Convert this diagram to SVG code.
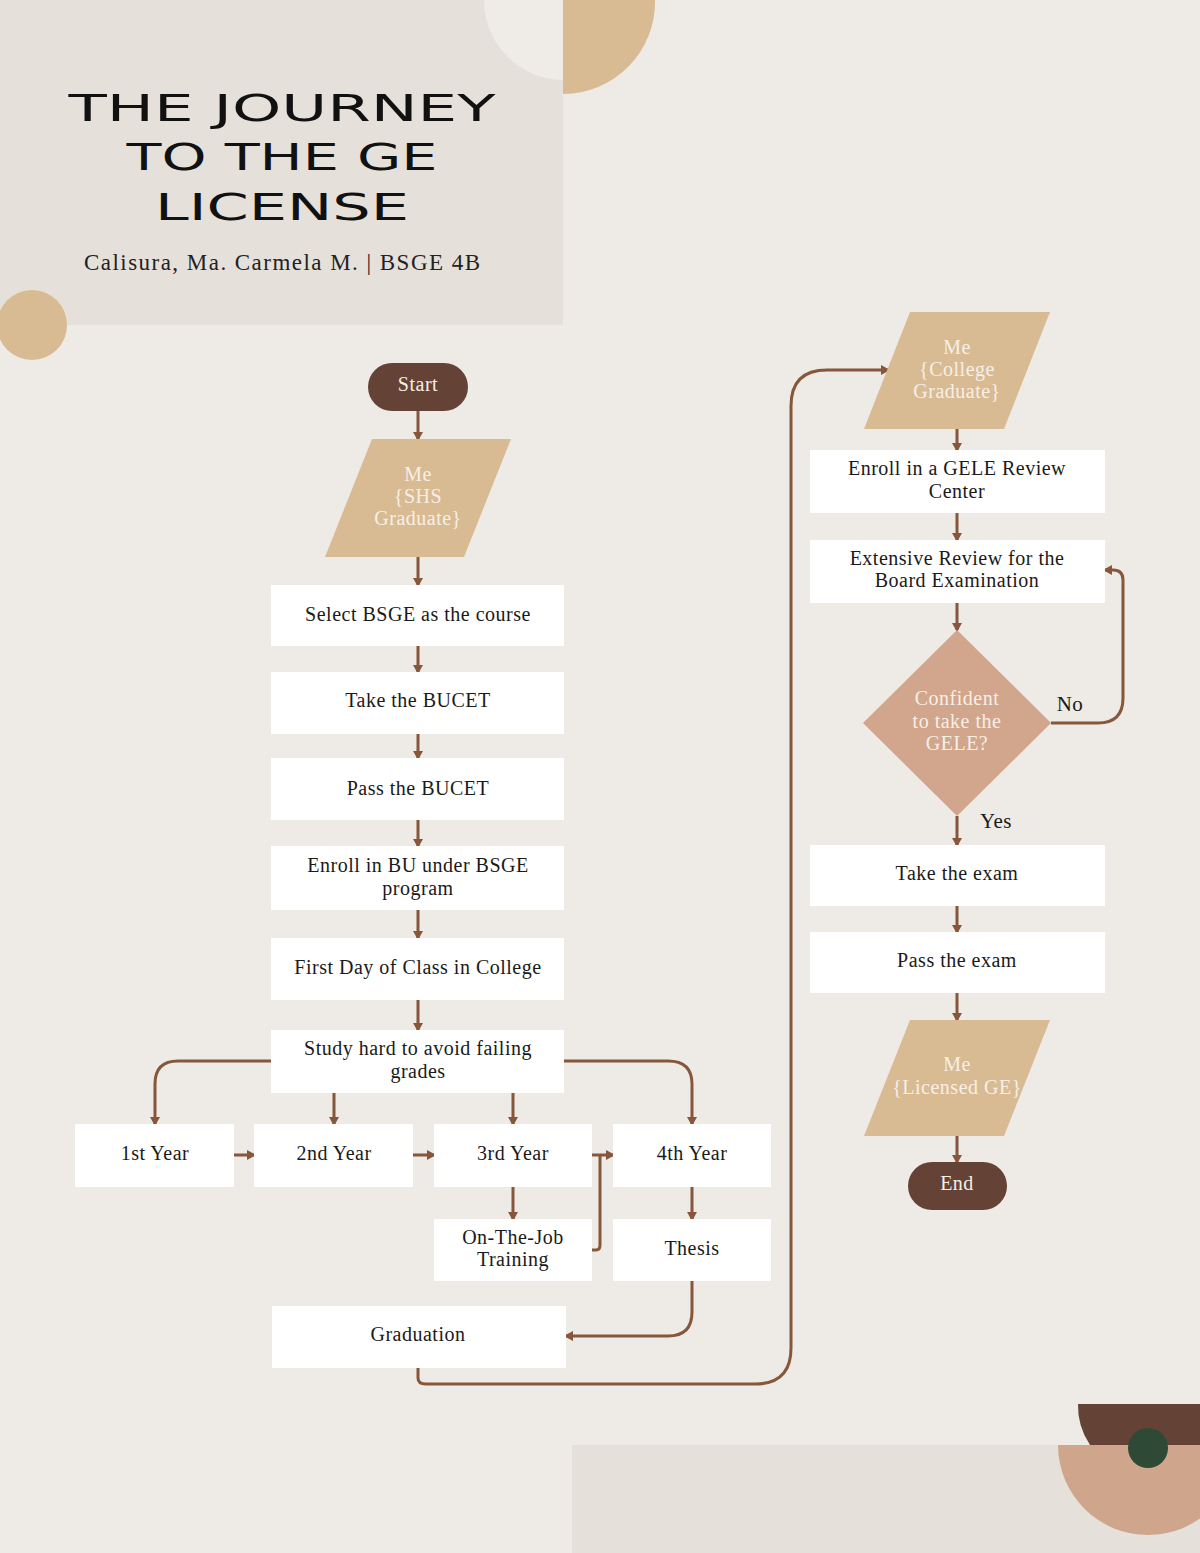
<svg xmlns="http://www.w3.org/2000/svg" width="1200" height="1553" viewBox="0 0 1200 1553">
<style>
.box{fill:#ffffff}
.t{font-family:"Liberation Serif","DejaVu Serif",serif;font-size:20px;fill:#1a1a1a;text-anchor:middle;letter-spacing:0.5px}
.w{font-family:"Liberation Serif","DejaVu Serif",serif;font-size:20px;fill:#f6efe6;text-anchor:middle;letter-spacing:0.5px}
.c{fill:none;stroke:#86573a;stroke-width:3}
.title{font-family:"DejaVu Sans",sans-serif;font-size:38px;fill:#111;text-anchor:middle}
</style>
<defs>
<marker id="ah" markerWidth="10" markerHeight="10" refX="7" refY="5" orient="auto" markerUnits="userSpaceOnUse"><path d="M0,0 L9,5 L0,10 z" fill="#86573a"/></marker>
</defs>
<rect width="1200" height="1553" fill="#eeeae6"/>
<rect x="0" y="0" width="563" height="325" fill="#e5e0da"/>
<path d="M563,0 L563,80 A80,80 0 0 1 484,0 z" fill="#efebe7"/>
<path d="M563,0 L655,0 A92,92 0 0 1 563,94 z" fill="#d9bb93"/>
<circle cx="32" cy="325" r="35" fill="#d9bb93"/>
<rect x="572" y="1445" width="628" height="108" fill="#e5e0da"/>
<path d="M1058,1445 A90,90 0 0 0 1238,1445 z" fill="#cfa68b"/>
<path d="M1078,1404 L1200,1404 L1200,1445 L1090,1445 A70,70 0 0 1 1078,1404 z" fill="#654236"/>
<circle cx="1148" cy="1448" r="20" fill="#2e4a36"/>
<g id="title">
<text class="title" x="282" y="121" textLength="427" lengthAdjust="spacingAndGlyphs">THE JOURNEY</text>
<text class="title" x="282" y="170" textLength="311" lengthAdjust="spacingAndGlyphs">TO THE GE</text>
<text class="title" x="282" y="220" textLength="254" lengthAdjust="spacingAndGlyphs">LICENSE</text>
<text x="282" y="270" textLength="396" style="font-family:'Liberation Serif',serif;font-size:23px;fill:#222;text-anchor:middle">Calisura, Ma. Carmela M. | BSGE 4B</text>
</g>
<g id="connectors">
<path class="c" marker-end="url(#ah)" d="M418,411 V439"/>
<path class="c" marker-end="url(#ah)" d="M418,557 V585"/>
<path class="c" marker-end="url(#ah)" d="M418,646 V672"/>
<path class="c" marker-end="url(#ah)" d="M418,734 V758"/>
<path class="c" marker-end="url(#ah)" d="M418,820 V846"/>
<path class="c" marker-end="url(#ah)" d="M418,910 V938"/>
<path class="c" marker-end="url(#ah)" d="M418,1000 V1030"/>
<path class="c" marker-end="url(#ah)" d="M271,1061 H178 Q155,1061 155,1084 V1124"/>
<path class="c" marker-end="url(#ah)" d="M564,1061 H668 Q692,1061 692,1084 V1124"/>
<path class="c" marker-end="url(#ah)" d="M334,1093 V1124"/>
<path class="c" marker-end="url(#ah)" d="M513,1093 V1124"/>
<path class="c" marker-end="url(#ah)" d="M234,1155 H254"/>
<path class="c" marker-end="url(#ah)" d="M413,1155 H434"/>
<path class="c" marker-end="url(#ah)" d="M592,1155 H613"/>
<path class="c" d="M592,1250 H596 Q600,1250 600,1245 V1155"/>
<path class="c" marker-end="url(#ah)" d="M513,1187 V1219"/>
<path class="c" marker-end="url(#ah)" d="M692,1187 V1219"/>
<path class="c" marker-end="url(#ah)" d="M692,1281 V1312 Q692,1336 668,1336 H566"/>
<path class="c" marker-end="url(#ah)" d="M418,1368 V1378 Q418,1384 426,1384 H755 Q791,1384 791,1348 V406 Q791,370 827,370 H888"/>
<path class="c" marker-end="url(#ah)" d="M957,429 V450"/>
<path class="c" marker-end="url(#ah)" d="M957,513 V540"/>
<path class="c" marker-end="url(#ah)" d="M957,603 V630"/>
<path class="c" marker-end="url(#ah)" d="M1051,723 H1098 Q1123,723 1123,698 V580 Q1123,570 1113,570 H1105"/>
<path class="c" marker-end="url(#ah)" d="M957,816 V845"/>
<path class="c" marker-end="url(#ah)" d="M957,906 V932"/>
<path class="c" marker-end="url(#ah)" d="M957,993 V1020"/>
<path class="c" marker-end="url(#ah)" d="M957,1136 V1162"/>
<text class="t" x="1070" y="711" style="font-size:21px">No</text>
<text class="t" x="996" y="828" style="font-size:21px">Yes</text>
</g>
<g id="start"><rect x="368" y="363" width="100" height="48" rx="24" fill="#654236"/><text class="w" x="418" y="391">Start</text></g>
<g id="me-shs"><polygon points="372,439 511,439 464,557 325,557" fill="#d9bb93"/><text class="w" x="418" y="481">Me</text><text class="w" x="418" y="503">{SHS</text><text class="w" x="418" y="525">Graduate}</text></g>
<g id="select"><rect class="box" x="271" y="585" width="293" height="61"/><text class="t" x="418" y="621">Select BSGE as the course</text></g>
<g id="take-bucet"><rect class="box" x="271" y="672" width="293" height="62"/><text class="t" x="418" y="707">Take the BUCET</text></g>
<g id="pass-bucet"><rect class="box" x="271" y="758" width="293" height="62"/><text class="t" x="418" y="795">Pass the BUCET</text></g>
<g id="enroll-bu"><rect class="box" x="271" y="846" width="293" height="64"/><text class="t" x="418" y="872">Enroll in BU under BSGE</text><text class="t" x="418" y="895">program</text></g>
<g id="first-day"><rect class="box" x="271" y="938" width="293" height="62"/><text class="t" x="418" y="974">First Day of Class in College</text></g>
<g id="study"><rect class="box" x="271" y="1030" width="293" height="63"/><text class="t" x="418" y="1055">Study hard to avoid failing</text><text class="t" x="418" y="1078">grades</text></g>
<g id="y1"><rect class="box" x="75" y="1124" width="159" height="63"/><text class="t" x="155" y="1160">1st Year</text></g>
<g id="y2"><rect class="box" x="254" y="1124" width="159" height="63"/><text class="t" x="334" y="1160">2nd Year</text></g>
<g id="y3"><rect class="box" x="434" y="1124" width="158" height="63"/><text class="t" x="513" y="1160">3rd Year</text></g>
<g id="y4"><rect class="box" x="613" y="1124" width="158" height="63"/><text class="t" x="692" y="1160">4th Year</text></g>
<g id="ojt"><rect class="box" x="434" y="1219" width="158" height="62"/><text class="t" x="513" y="1244">On-The-Job</text><text class="t" x="513" y="1266">Training</text></g>
<g id="thesis"><rect class="box" x="613" y="1219" width="158" height="62"/><text class="t" x="692" y="1255">Thesis</text></g>
<g id="graduation"><rect class="box" x="272" y="1306" width="294" height="62"/><text class="t" x="418" y="1341">Graduation</text></g>
<g id="me-college"><polygon points="910,312 1050,312 1004,429 864,429" fill="#d9bb93"/><text class="w" x="957" y="354">Me</text><text class="w" x="957" y="376">{College</text><text class="w" x="957" y="398">Graduate}</text></g>
<g id="enroll-gele"><rect class="box" x="810" y="450" width="295" height="63"/><text class="t" x="957" y="475">Enroll in a GELE Review</text><text class="t" x="957" y="498">Center</text></g>
<g id="review"><rect class="box" x="810" y="540" width="295" height="63"/><text class="t" x="957" y="565">Extensive Review for the</text><text class="t" x="957" y="587">Board Examination</text></g>
<g id="confident"><polygon points="957,630 1051,723 957,816 863,723" fill="#d1a68c"/><text class="w" x="957" y="705">Confident</text><text class="w" x="957" y="728">to take the</text><text class="w" x="957" y="750">GELE?</text></g>
<g id="take-exam"><rect class="box" x="810" y="845" width="295" height="61"/><text class="t" x="957" y="880">Take the exam</text></g>
<g id="pass-exam"><rect class="box" x="810" y="932" width="295" height="61"/><text class="t" x="957" y="967">Pass the exam</text></g>
<g id="me-licensed"><polygon points="910,1020 1050,1020 1004,1136 864,1136" fill="#d9bb93"/><text class="w" x="957" y="1071">Me</text><text class="w" x="957" y="1094">{Licensed GE}</text></g>
<g id="end"><rect x="908" y="1162" width="99" height="48" rx="24" fill="#654236"/><text class="w" x="957" y="1190">End</text></g>
</svg>
